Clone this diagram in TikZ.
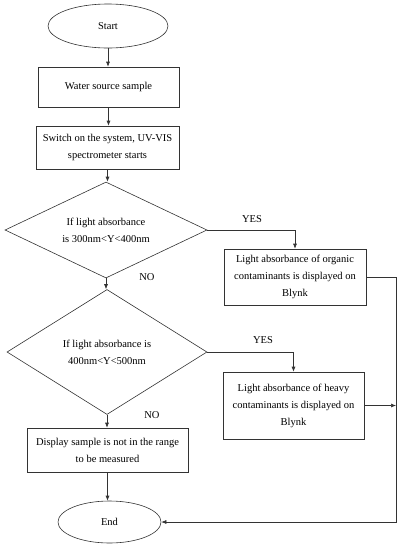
\documentclass[tikz,border=0pt]{standalone}
\usepackage{fontspec}
\setmainfont{Liberation Serif}
\usetikzlibrary{shapes.geometric,arrows.meta}
\tikzstyle{terminal} = [draw, ellipse, inner sep=0pt]
\tikzstyle{process}  = [draw, rectangle, align=center, inner sep=0pt]
\tikzstyle{decision} = [draw, diamond, aspect=2, align=center, inner sep=0pt]
\tikzstyle{answer}   = [inner sep=0pt]

\begin{document}
\begin{tikzpicture}[x=1pt, y=-1pt, ->, >={Latex[length=5pt,width=4pt]},
  line width=0.6pt, draw=black!80,
  every node/.style={font=\fontsize{10.5}{17}\selectfont}]
\useasboundingbox (0,0) rectangle (405,550);
\node[terminal, minimum width=120pt, minimum height=44pt] (start) at (108,26) {Start};
\node[process, minimum width=141pt, minimum height=40pt] (water) at (108.5,87) {Water source sample};
\node[process, minimum width=143pt, minimum height=43pt] (switch) at (107.5,147.5)
	{Switch on the system, UV-VIS\\spectrometer starts};
\node[decision, minimum width=202pt, minimum height=96pt] (dec1) at (106,230)
	{If light absorbance\\is 300nm<Y<400nm};
\node[process, minimum width=142pt, minimum height=56pt] (org) at (295,277)
	{Light absorbance of organic\\contaminants is displayed on\\Blynk};
\node[decision, minimum width=200pt, minimum height=125pt] (dec2) at (107,352)
	{If light absorbance is\\400nm<Y<500nm};
\node[process, minimum width=141pt, minimum height=67pt] (heavy) at (293.5,405.5)
	{Light absorbance of heavy\\contaminants is displayed on\\Blynk};
\node[process, minimum width=161pt, minimum height=44pt] (disp) at (107.5,450)
	{Display sample is not in the range\\to be measured};
\node[terminal, minimum width=103pt, minimum height=42pt] (end) at (109.5,522) {End};
\coordinate (rail) at (396,0);
% main column
\draw (start.south) -- (start.south |- water.north);
\draw (water.south) -- (water.south |- switch.north);
\draw (switch.south) -- (switch.south |- dec1.north);
\draw (dec1.south) -- (dec1.south |- dec2.north);
\draw (dec2.south) -- (dec2.south |- disp.north);
\draw (disp.south) -- (disp.south |- end.north);
% yes branches
\draw (dec1.east) -| (org.north);
\draw (dec2.east) -| (heavy.north);
\draw (org.east) -- (org.east -| rail) -- (rail |- end.east) -- (end.east);
\draw (heavy.east) -- (heavy.east -| rail);
% labels
\node[answer] (yes1) at (252,219) {YES};
\node[answer] (no1) at (147,277) {NO};
\node[answer] (yes2) at (263,340) {YES};
\node[answer] (no2) at (152,415) {NO};
\end{tikzpicture}
\end{document}
